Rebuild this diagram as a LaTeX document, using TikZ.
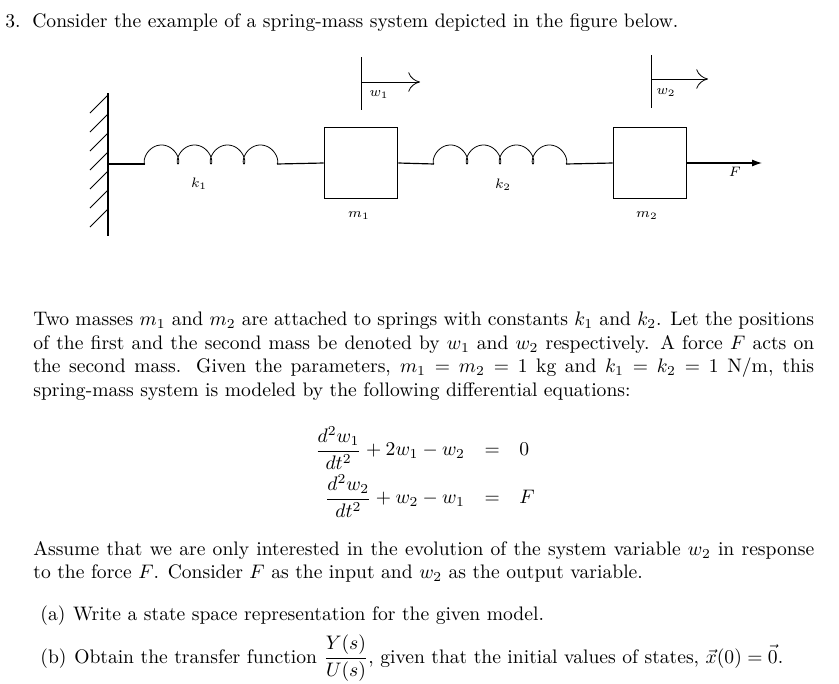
\documentclass[tikz,border=0pt]{standalone}
\usetikzlibrary{arrows.meta}
\begin{document}
\begin{tikzpicture}[x=0.511pt,y=-0.511pt,
  lbl/.style={font=\scriptsize,inner sep=1pt},
  mass/.style={draw,semithick,minimum width=37.5pt,minimum height=36.5pt,inner sep=0},
  txt/.style={inner sep=0,anchor=base west}]
\useasboundingbox (0,0) rectangle (839,684);
% wall
\draw[semithick] (108,93) -- (108,236);
\foreach \y in {95,114,133,152,171,190,209} \draw (108,\y) -- (90,\y+18);
% masses
\node[mass] (m1) at (361,163) {};
\node[mass] (m2) at (650,163) {};
\coordinate (wall) at (108,164);
% springs
\draw[semithick] (wall) -- (145,164);
\draw[domain=0:25.133,samples=200,smooth,variable=\t]
  plot ({145+5.25*\t-7*sin(\t r)},{164-9.5*(1-cos(\t r))});
\draw[semithick] (277,164) -- (m1.west);
\draw[semithick] (m1.east) -- (434,164);
\draw[domain=0:25.133,samples=200,smooth,variable=\t]
  plot ({434+5.25*\t-7*sin(\t r)},{164-9.5*(1-cos(\t r))});
\draw[semithick] (566,164) -- (m2.west);
\coordinate (Fend) at (762,163);
\draw[semithick,-{Latex[length=5pt,width=3.5pt]}] (m2.east) -- (Fend);
% displacement arrows
\coordinate (w1t) at (361,57); \coordinate (w1b) at (361,110);
\coordinate (w1a) at (361,82); \coordinate (w1e) at (420,82);
\draw (w1t) -- (w1b);
\draw[-{To[length=6pt,width=10pt]}] (w1a) -- (w1e);
\coordinate (w2t) at (651,55); \coordinate (w2b) at (651,108);
\coordinate (w2a) at (651,79); \coordinate (w2e) at (708,79);
\draw (w2t) -- (w2b);
\draw[-{To[length=6pt,width=10pt]}] (w2a) -- (w2e);
% labels
\node[lbl] (lw1) at (379,95) {$w_1$};
\node[lbl] (lw2) at (666,93) {$w_2$};
\node[lbl] (lk1) at (199,184) {$k_1$};
\node[lbl] (lk2) at (503,185) {$k_2$};
\node[lbl] (lm1) at (359,216) {$m_1$};
\node[lbl] (lm2) at (647,216) {$m_2$};
\node[lbl] (lF) at (735,172) {$F$};
% text
\node[txt] (t0) at (5,27) {3.\hspace{0.6em}Consider the example of a spring-mass system depicted in the figure below.};
\node[inner sep=0,anchor=north west,text width=399pt,align=justify] (p1) at (33,312)
 {Two masses $m_1$ and $m_2$ are attached to springs with constants $k_1$ and $k_2$. Let the positions of the first and the second mass be denoted by $w_1$ and $w_2$ respectively. A force $F$ acts on the second mass. Given the parameters, $m_1=m_2=1$ kg and $k_1=k_2=1$ N/m, this spring-mass system is modeled by the following differential equations:};
\node[inner sep=0] (eq) at (425,472)
 {$\begin{array}{rcl}
 \displaystyle\frac{d^2w_1}{dt^2}+2w_1-w_2 &=& 0\\[6pt]
 \displaystyle\frac{d^2w_2}{dt^2}+w_2-w_1 &=& F
 \end{array}$};
\node[inner sep=0,anchor=north west,text width=399pt,align=justify] (p2) at (33,541)
 {Assume that we are only interested in the evolution of the system variable $w_2$ in response to the force $F$. Consider $F$ as the input and $w_2$ as the output variable.};
\node[txt] (ta) at (40,620) {(a)\hspace{0.4em}Write a state space representation for the given model.};
\node[txt] (tb) at (40,663) {(b)\hspace{0.4em}Obtain the transfer function $\displaystyle\frac{Y(s)}{U(s)}$, given that the initial values of states, $\vec{x}(0)=\vec{0}$.};
\end{tikzpicture}
\end{document}
